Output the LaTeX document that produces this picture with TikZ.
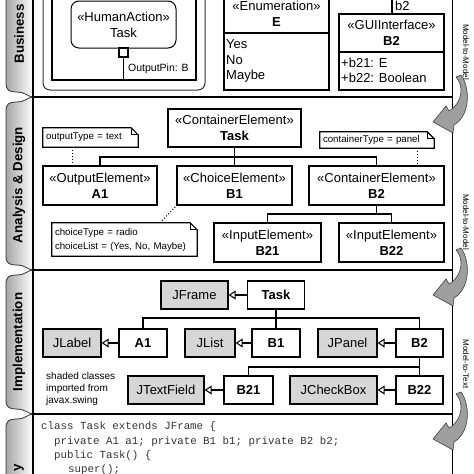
\documentclass[tikz,border=0pt]{standalone}
\usepackage{fontspec}
\setmainfont{Liberation Sans}
\setmonofont{Liberation Mono}
\usetikzlibrary{arrows.meta}
\begin{document}
\begin{tikzpicture}[x=1pt,y=-1pt,
  every node/.style={inner sep=0pt, text=black},
  umlbox/.style={draw=black, line width=1.4pt, fill=white, align=center, font=\fontsize{13}{16}\selectfont},
  libbox/.style={umlbox, fill=black!16},
  txt/.style={font=\fontsize{13}{16}\selectfont},
  notebox/.style={align=left, inner sep=3pt, font=\fontsize{9.7}{14}\selectfont},
  conn/.style={draw=black, line width=1.2pt},
  gen/.style={conn, -{Triangle[open, length=7pt, width=9pt, line width=1pt]}},
  anchorline/.style={draw=black, line width=1pt, dotted},
  tabshape/.style={draw=black!80, line width=0.8pt, left color=black!35, right color=white},
  tablabel/.style={rotate=90, font=\fontsize{13.3}{16}\selectfont\bfseries},
  translabel/.style={rotate=-90, font=\fontsize{8}{10}\selectfont},
  codeline/.style={anchor=west, text=black!80, font=\ttfamily\fontsize{10.8}{14}\selectfont},
  transarr/.pic={\filldraw[fill=black!38, draw=black!75, line width=0.6pt]
     (4,-20) .. controls (12,-12) and (11,6) .. (-3,14) -- (-6,9) -- (-19,25) -- (1,36) -- (2,28)
     .. controls (19,18) and (18,-10) .. (9,-22) -- cycle;}
]
\useasboundingbox (0,0) rectangle (474,474);

% ---------- lane tabs ----------
\foreach \a/\b in {-40/97,97/270,270/414,414/520}{
  \path[tabshape] (33,\a) .. controls (28,\a) and (26,\a+5) .. (16,\a+5)
     .. controls (9,\a+5) and (6,\a+7) .. (6,\a+14) -- (6,\b-14)
     .. controls (6,\b-7) and (9,\b-5) .. (16,\b-5)
     .. controls (26,\b-5) and (28,\b) .. (33,\b) -- cycle;
}
\node[tablabel] (tBus) at (19,34) {Business};
\node[tablabel] (tAna) at (19,185) {Analysis \& Design};
\node[tablabel] (tImp) at (19,342) {Implementation};
\node[tablabel] (tTech) at (19,468) {y};

% ---------- frame ----------
\draw[line width=2.2pt] (33,-5) -- (33,480);
\draw[line width=1pt] (452,-5) -- (452,480);
\foreach \y in {97,270,414} \draw[line width=1.8pt] (33,\y) -- (452,\y);

% ---------- Business ----------
\draw[line width=1pt, draw=black!80, rounded corners=7pt] (43,-20) rectangle (205,90);
\draw[line width=1.4pt] (52,-20) rectangle (196,80);
\node[umlbox, line width=1pt, rounded corners=8pt, minimum width=105, minimum height=47] (bTask) at (123.5,24.5) {«HumanAction»\\Task};
\node[draw, line width=1.2pt, fill=white, minimum size=9] (bPin) at (123.5,52.5) {};
\coordinate (bPinEnd) at (123.5,80);
\draw[line width=0.8pt] (bPin.south) -- (bPinEnd);
\node[anchor=west, font=\fontsize{10.5}{12}\selectfont] (bPinLbl) at (128,69) {OutputPin: B};

\node[draw, line width=1.4pt, fill=white, minimum width=105, minimum height=100] (bEnum) at (276.5,40) {};
\draw[line width=1.2pt] (bEnum.west |- 0,33) -- (bEnum.east |- 0,33);
\node[txt] (bEnumSt) at (276.5,6) {«Enumeration»};
\node[txt] (bEnumN) at (276.5,22) {\textbf{E}};
\node[txt, anchor=west] (bYes) at (226,44) {Yes};
\node[txt, anchor=west] (bNo) at (226,60) {No};
\node[txt, anchor=west] (bMaybe) at (226,76) {Maybe};

\node[draw, line width=1.4pt, fill=white, minimum width=105, minimum height=76] (bGui) at (391.5,52) {};
\draw[line width=1.2pt] (bGui.west |- 0,52) -- (bGui.east |- 0,52);
\node[txt] (bGuiSt) at (391.5,25) {«GUIInterface»};
\node[txt] (bGuiN) at (391.5,41) {\textbf{B2}};
\node[txt, anchor=west] (bB21) at (341,63) {+b21: E};
\node[txt, anchor=west] (bB22) at (341,78) {+b22: Boolean};
\coordinate (bAssoc) at (392,-5);
\draw[line width=1.2pt] (bAssoc) -- (bAssoc |- bGui.north);
\node[txt, anchor=west] (bB2lbl) at (395,6) {b2};

% ---------- Analysis & Design ----------
\node[umlbox, minimum width=133, minimum height=38] (aTask) at (234.5,128) {«ContainerElement»\\\textbf{Task}};
\node[umlbox, minimum width=114, minimum height=39] (aA1) at (100,185.5) {«OutputElement»\\\textbf{A1}};
\node[umlbox, minimum width=115, minimum height=39] (aB1) at (234.5,185.5) {«ChoiceElement»\\\textbf{B1}};
\node[umlbox, minimum width=135, minimum height=39] (aB2) at (376.5,185.5) {«ContainerElement»\\\textbf{B2}};
\node[umlbox, minimum width=107, minimum height=39] (aB21) at (267.5,242.5) {«InputElement»\\\textbf{B21}};
\node[umlbox, minimum width=105, minimum height=39] (aB22) at (391.5,242.5) {«InputElement»\\\textbf{B22}};

\draw[conn] (aTask.south) -- (aB1.north);
\coordinate (aBar) at (234.5,157);
\draw[conn] (aA1.north) |- (aBar) -| (aB2.north);
\coordinate (aBar2) at (376.5,214);
\draw[conn] (aB2.south) -- (aBar2);
\draw[conn] (aB21.north) |- (aBar2) -| (aB22.north);

\node[notebox, text width=89, minimum height=19] (nOut) at (90.5,137.5) {outputType = text};
\node[notebox, text width=108, minimum height=16] (nCont) at (377,140) {containerType = panel};
\node[notebox, text width=139, minimum height=33] (nChoice) at (124.5,239.5) {choiceType = radio\\choiceList = (Yes, No, Maybe)};
\foreach \n in {nOut,nCont,nChoice}{
  \draw[line width=1.2pt] (\n.north west) -- ([xshift=-7pt]\n.north east) -- ([yshift=-7pt]\n.north east)
     -- (\n.south east) -- (\n.south west) -- cycle;
  \draw[line width=0.8pt] ([xshift=-7pt]\n.north east) -- ([xshift=-7pt,yshift=-7pt]\n.north east) -- ([yshift=-7pt]\n.north east);
}
\draw[anchorline] (nOut.south -| 72,0) -- (aA1.north -| 72,0);
\draw[anchorline] (nCont.south -| 417,0) -- (aB2.north -| 417,0);
\draw[anchorline] (nChoice.north -| 160,0) -- (aB1.south west);

% ---------- Implementation ----------
\node[libbox, minimum width=67, minimum height=28] (iJFrame) at (194.5,295) {JFrame};
\node[umlbox, minimum width=57, minimum height=28] (iTask) at (276,295) {\textbf{Task}};

\node[libbox, minimum width=58, minimum height=28] (iJLabel) at (72,343) {JLabel};
\node[umlbox, minimum width=48, minimum height=28] (iA1) at (143,343) {\textbf{A1}};
\node[libbox, minimum width=50, minimum height=28] (iJList) at (210,343) {JList};
\node[umlbox, minimum width=48, minimum height=28] (iB1) at (276,343) {\textbf{B1}};
\node[libbox, minimum width=59, minimum height=28] (iJPanel) at (347.5,343) {JPanel};
\node[umlbox, minimum width=47, minimum height=28] (iB2) at (419.5,343) {\textbf{B2}};

\node[libbox, minimum width=76, minimum height=28] (iJTextField) at (166,390) {JTextField};
\node[umlbox, minimum width=49, minimum height=28] (iB21) at (248.5,390) {\textbf{B21}};
\node[libbox, minimum width=87, minimum height=28] (iJCheckBox) at (333.5,390) {JCheckBox};
\node[umlbox, minimum width=47, minimum height=28] (iB22) at (419.5,390) {\textbf{B22}};

\draw[gen] (iTask.west) -- (iJFrame.east);
\draw[gen] (iA1.west) -- (iJLabel.east);
\draw[gen] (iB1.west) -- (iJList.east);
\draw[gen] (iB2.west) -- (iJPanel.east);
\draw[gen] (iB21.west) -- (iJTextField.east);
\draw[gen] (iB22.west) -- (iJCheckBox.east);

\draw[conn] (iTask.south) -- (iB1.north);
\coordinate (iBar) at (276,318);
\draw[conn] (iA1.north) |- (iBar) -| (iB2.north);
\coordinate (iBar2) at (419.5,367);
\draw[conn] (iB2.south) -- (iB22.north);
\draw[conn] (iB21.north) |- (iBar2);

\node[anchor=north west, align=left, font=\fontsize{10}{12}\selectfont] (iNote) at (46,372) {shaded classes\\imported from\\javax.swing};

% ---------- Code ----------
\node[codeline] (c1) at (41,427) {class Task extends JFrame \{};
\node[codeline] (c2) at (54,441.5) {private A1 a1; private B1 b1; private B2 b2;};
\node[codeline] (c3) at (54,455.5) {public Task() \{};
\node[codeline] (c4) at (68,469.5) {super();};

% ---------- transformations ----------
\node[translabel] (m1) at (466,52) {Model-to-Model};
\node[translabel] (m2) at (466,222) {Model-to-Model};
\node[translabel] (m3) at (466,364) {Model-to-Text};
\pic (p1) at (452,97) {transarr};
\pic (p2) at (452,270) {transarr};
\pic (p3) at (452,414) {transarr};
\end{tikzpicture}
\end{document}
